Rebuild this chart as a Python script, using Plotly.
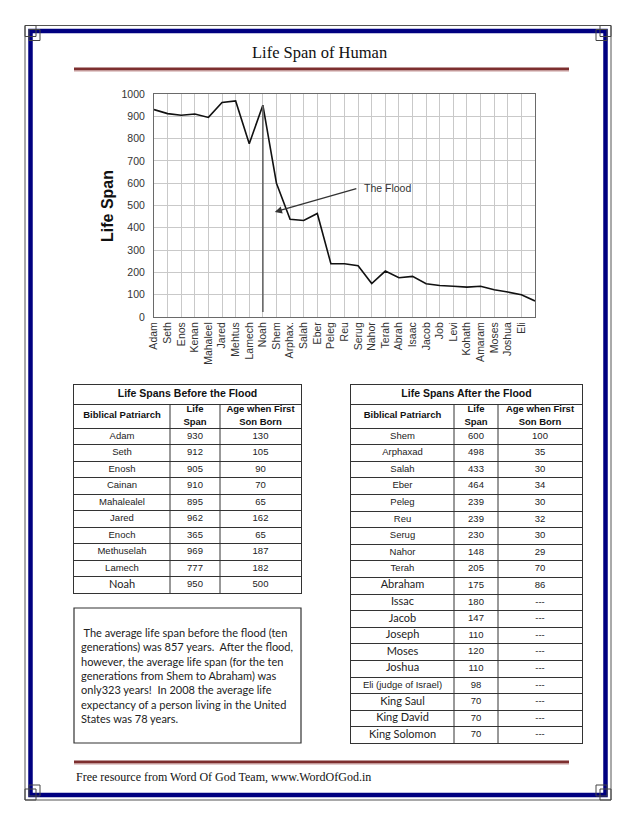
import plotly.graph_objects as go

# page is offset by the browser's 8px body margin, so the figure is 8px smaller
OFF = 8
W, H = 638 - OFF, 826 - OFF

# ---------------- data ----------------
chart_labels = ["Adam", "Seth", "Enos", "Kenan", "Mahaleel", "Jared", "Mehtus", "Lamech", "Noah",
                "Shem", "Arphax.", "Salah", "Eber", "Peleg", "Reu", "Serug", "Nahor", "Terah",
                "Abrah", "Isaac", "Jacob", "Job", "Levi", "Kohath", "Amaram", "Moses", "Joshua", "Eli", ""]
chart_values = [930, 912, 905, 910, 895, 962, 969, 777, 950,
                600, 438, 433, 464, 239, 239, 230, 150, 206,
                176, 182, 149, 141, 138, 134, 138, 122, 112, 100, 72]
y_ticks = [0, 100, 200, 300, 400, 500, 600, 700, 800, 900, 1000]
flood_index = 8          # Noah
flood_line_bottom = 22

before_names = ["Adam", "Seth", "Enosh", "Cainan", "Mahalealel", "Jared", "Enoch", "Methuselah", "Lamech", "Noah"]
before_span = [930, 912, 905, 910, 895, 962, 365, 969, 777, 950]
before_first = [130, 105, 90, 70, 65, 162, 65, 187, 182, 500]

after_names = ["Shem", "Arphaxad", "Salah", "Eber", "Peleg", "Reu", "Serug", "Nahor", "Terah",
               "Abraham", "Issac", "Jacob", "Joseph", "Moses", "Joshua", "Eli (judge of Israel)",
               "King Saul", "King David", "King Solomon"]
after_span = [600, 498, 433, 464, 239, 239, 230, 148, 205, 175, 180, 147, 110, 120, 110, 98, 70, 70, 70]
after_first = ["100", "35", "30", "34", "30", "32", "30", "29", "70", "86",
               "---", "---", "---", "---", "---", "---", "---", "---", "---"]

col_headers = ["<b>Biblical Patriarch</b>", "<b>Life<br>Span</b>", "<b>Age when First<br>Son Born</b>"]

paragraph = (" The average life span before the flood (ten<br>"
             "generations) was 857 years.  After the flood,<br>"
             "however, the average life span (for the ten<br>"
             "generations from Shem to Abraham) was<br>"
             "only323 years!  In 2008 the average life<br>"
             "expectancy of a person living in the United<br>"
             "States was 78 years.")

# ---------------- helpers ----------------
def fx(px):
    return (px - OFF) / W

def fy(py):
    return 1 - (py - OFF) / H

ARIAL = "Liberation Sans, Arial, sans-serif"
CALIBRI = "Lato, Carlito, sans-serif"
SERIF = "Liberation Serif, Cambria, serif"
LINE = "#333333"

fig = go.Figure()

# ---------------- chart ----------------
xs = list(range(len(chart_values)))
fig.add_trace(go.Scatter(x=xs, y=chart_values, mode="lines", xaxis="x", yaxis="y",
                         line=dict(color="#111111", width=1.6), showlegend=False,
                         hoverinfo="skip"))

fig.update_layout(
    xaxis=dict(domain=[fx(154), fx(535)], range=[0, len(chart_values) - 1], anchor="y",
               tickmode="array", tickvals=xs, ticktext=chart_labels, tickangle=-90,
               showgrid=True, gridcolor="#c9c9c9", gridwidth=1, zeroline=False,
               showline=True, linecolor="#6a6a6a", linewidth=1, mirror=True,
               tickfont=dict(family=ARIAL, size=10.5, color="#333"), ticks="",
               automargin=False, fixedrange=True),
    yaxis=dict(domain=[fy(317), fy(94)], range=[0, 1000], anchor="x",
               tickmode="array", tickvals=y_ticks, ticktext=[str(v) for v in y_ticks],
               showgrid=True, gridcolor="#c9c9c9", gridwidth=1, zeroline=False,
               showline=True, linecolor="#6a6a6a", linewidth=1, mirror=True,
               tickfont=dict(family=ARIAL, size=10.5, color="#333"), ticks="",
               ticklabelstandoff=6, automargin=False, fixedrange=True),
)

# Noah / flood vertical line
fig.add_shape(type="line", xref="x", yref="y", x0=flood_index, x1=flood_index,
              y0=chart_values[flood_index], y1=flood_line_bottom,
              line=dict(color="#666", width=1.6))

# arrow + label
fig.add_annotation(xref="x", yref="y", axref="x", ayref="y",
                   x=8.88, y=471, ax=14.98, ay=578, text="", showarrow=True,
                   arrowhead=2, arrowsize=1.1, arrowwidth=1.3, arrowcolor="#333")
fig.add_annotation(xref="x", yref="y", x=15.27, y=578, text="The Flood", showarrow=False,
                   xanchor="left", yanchor="middle",
                   font=dict(family=ARIAL, size=10.5, color="#333"))

# y-axis title
fig.add_annotation(xref="paper", yref="paper", x=fx(108), y=fy(206), text="<b>Life Span</b>",
                   textangle=-90, showarrow=False, xanchor="center", yanchor="middle",
                   font=dict(family=ARIAL, size=16, color="#111"))

# ---------------- tables (drawn on their own axes) ----------------
def make_table(idx, x0, y0, widths, title, names, spans, firsts, calibri_rows,
               title_h=19, header_h=24, row_h=16.5):
    xa, ya = f"x{idx}", f"y{idx}"
    n = len(names)
    total_w = sum(widths)
    total_h = title_h + header_h + n * row_h
    x1, y1 = x0 + total_w, y0 + total_h
    body_top = title_h + header_h
    row_lines = [title_h, body_top] + [body_top + i * row_h for i in range(1, n)]
    fig.layout[f"xaxis{idx}"] = dict(domain=[fx(x0), fx(x1)], range=[0, total_w], anchor=ya,
                                     showgrid=False, zeroline=False, showticklabels=False, ticks="",
                                     showline=True, mirror=True, linecolor=LINE, linewidth=1.2,
                                     fixedrange=True)
    fig.layout[f"yaxis{idx}"] = dict(domain=[fy(y1), fy(y0)], range=[total_h, 0], anchor=xa,
                                     tickmode="array", tickvals=row_lines,
                                     showgrid=True, gridcolor=LINE, gridwidth=1,
                                     zeroline=False, showticklabels=False, ticks="",
                                     showline=True, mirror=True, linecolor=LINE, linewidth=1.2,
                                     fixedrange=True)
    # column separators (below the title row)
    bounds = [0]
    for w in widths:
        bounds.append(bounds[-1] + w)
    for b in bounds[1:-1]:
        fig.add_shape(type="line", xref=xa, yref=ya, x0=b, x1=b, y0=title_h, y1=total_h,
                      line=dict(color=LINE, width=1))
    centers = [(bounds[i] + bounds[i + 1]) / 2 for i in range(len(widths))]
    # title row
    fig.add_trace(go.Scatter(x=[total_w / 2], y=[title_h / 2], xaxis=xa, yaxis=ya, mode="text",
                             text=[f"<b>{title}</b>"], textposition="middle center",
                             textfont=dict(family=ARIAL, size=10.5, color="#111"),
                             showlegend=False, hoverinfo="skip"))
    # header row
    fig.add_trace(go.Scatter(x=centers, y=[title_h + header_h / 2] * 3, xaxis=xa, yaxis=ya,
                             mode="text", text=col_headers, textposition="middle center",
                             textfont=dict(family=ARIAL, size=9.5, color="#111"),
                             showlegend=False, hoverinfo="skip"))
    # body cells
    row_c = [body_top + (i + 0.5) * row_h for i in range(n)]
    name_fonts = [CALIBRI if i in calibri_rows else ARIAL for i in range(n)]
    name_sizes = [11 if i in calibri_rows else 9.5 for i in range(n)]
    fig.add_trace(go.Scatter(x=[centers[0]] * n, y=row_c, xaxis=xa, yaxis=ya, mode="text",
                             text=names, textposition="middle center",
                             textfont=dict(family=name_fonts, size=name_sizes, color="#222"),
                             showlegend=False, hoverinfo="skip"))
    fig.add_trace(go.Scatter(x=[centers[1]] * n + [centers[2]] * n, y=row_c + row_c,
                             xaxis=xa, yaxis=ya, mode="text",
                             text=[str(s) for s in spans] + [str(f) for f in firsts],
                             textposition="middle center",
                             textfont=dict(family=ARIAL, size=9.5, color="#222"),
                             showlegend=False, hoverinfo="skip"))

make_table(2, 74, 385, [96, 50, 81], "Life Spans Before the Flood",
           before_names, before_span, before_first, {9}, row_h=16.5)
make_table(3, 351, 385, [103, 44, 84], "Life Spans After the Flood",
           after_names, after_span, after_first, {9, 10, 11, 12, 13, 14, 16, 17, 18}, row_h=16.6)

# ---------------- text box ----------------
fig.add_shape(type="rect", xref="paper", yref="paper", x0=fx(74), x1=fx(301), y0=fy(743), y1=fy(608),
              line=dict(color=LINE, width=1.2))
fig.add_annotation(xref="paper", yref="paper", x=fx(79), y=fy(675), text=paragraph, showarrow=False,
                   xanchor="left", yanchor="middle", align="left",
                   font=dict(family=CALIBRI, size=11, color="#222"))

# ---------------- page decoration ----------------
fig.add_annotation(xref="paper", yref="paper", x=fx(319), y=fy(53), text="Life Span of Human",
                   showarrow=False, xanchor="center", yanchor="middle",
                   font=dict(family=SERIF, size=16.5, color="#111"))
fig.add_annotation(xref="paper", yref="paper", x=fx(74), y=fy(777),
                   text="Free resource from Word Of God Team, www.WordOfGod.in",
                   showarrow=False, xanchor="left", yanchor="middle",
                   font=dict(family=SERIF, size=12, color="#111"))

for yy in (69, 762):
    fig.add_shape(type="line", xref="paper", yref="paper", x0=fx(74), x1=fx(569), y0=fy(yy), y1=fy(yy),
                  line=dict(color="#7d2f2f", width=3))
    fig.add_shape(type="line", xref="paper", yref="paper", x0=fx(74), x1=fx(569), y0=fy(yy + 2), y1=fy(yy + 2),
                  line=dict(color="#c79a9a", width=1))

# blue frame
fig.add_shape(type="rect", xref="paper", yref="paper", x0=fx(30.5), x1=fx(605.5), y0=fy(795), y1=fy(31),
              line=dict(color="#000080", width=4.5))
fig.add_shape(type="rect", xref="paper", yref="paper", x0=fx(25), x1=fx(611), y0=fy(800), y1=fy(25.5),
              line=dict(color="#555", width=1))
# corner squares
for (cx, cy, sx, sy) in [(25, 25.5, 1, 1), (611, 25.5, -1, 1), (25, 800, 1, -1), (611, 800, -1, -1)]:
    for off in (0, 4):
        x0 = cx + sx * off
        y0 = cy + sy * off
        fig.add_shape(type="rect", xref="paper", yref="paper",
                      x0=fx(x0), x1=fx(x0 + sx * 11), y0=fy(y0), y1=fy(y0 + sy * 11),
                      line=dict(color="#444", width=1))

fig.update_layout(width=W, height=H, margin=dict(l=0, r=0, t=0, b=0),
                  paper_bgcolor="white", plot_bgcolor="white", showlegend=False)

fig.write_html("out.html")
